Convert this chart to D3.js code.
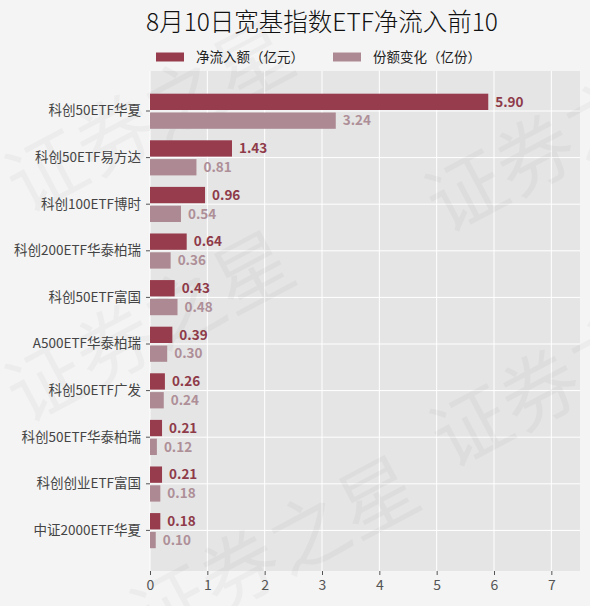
<!DOCTYPE html>
<html>
<head>
<meta charset="utf-8">
<script src="https://cdn.jsdelivr.net/npm/d3@7"></script>
<style>
  html, body { margin: 0; padding: 0; background: #f4f4f4; }
  svg { display: block; font-family: "Noto Sans CJK SC", "Noto Sans", sans-serif; }
</style>
</head>
<body>
<div id="stage"></div>
<script>
const categories = ['科创50ETF华夏', '科创50ETF易方达', '科创100ETF博时', '科创200ETF华泰柏瑞', '科创50ETF富国',
                    'A500ETF华泰柏瑞', '科创50ETF广发', '科创50ETF华泰柏瑞', '科创创业ETF富国', '中证2000ETF华夏'];
const netInflow = [5.90, 1.43, 0.96, 0.64, 0.43, 0.39, 0.26, 0.21, 0.21, 0.18];
const shareChange = [3.24, 0.81, 0.54, 0.36, 0.48, 0.30, 0.24, 0.12, 0.18, 0.10];
const xTicks = [0, 1, 2, 3, 4, 5, 6, 7];

const width = 590;
const height = 606;
const plot = {left: 150, right: 580, top: 71, bottom: 571};
const red = '#973c4c';
const pink = '#ad8a93';

const svg = d3.select('#stage')
              .append('svg')
              .attr('width', width)
              .attr('height', height);

svg.append('rect').attr('width', width).attr('height', height).attr('fill', '#f4f4f4');
svg.append('rect')
   .attr('x', plot.left).attr('y', plot.top)
   .attr('width', plot.right - plot.left).attr('height', plot.bottom - plot.top)
   .attr('fill', '#e5e5e5');

const x = d3.scaleLinear().domain([0, 7.5]).range([plot.left, plot.right]);
const y = d3.scaleBand().domain(categories).range([87.7, 553.7]).padding(0);
const bh = y.bandwidth() * 0.35;
const cy = d => y(d) + y.bandwidth() / 2;

// grid
svg.append('g').selectAll('line').data(xTicks).join('line')
   .attr('x1', d => x(d)).attr('x2', d => x(d))
   .attr('y1', plot.top).attr('y2', plot.bottom)
   .attr('stroke', '#fff').attr('stroke-width', 1);
svg.append('g').selectAll('line').data(categories).join('line')
   .attr('x1', plot.left).attr('x2', plot.right)
   .attr('y1', cy).attr('y2', cy)
   .attr('stroke', '#fff').attr('stroke-width', 1);

// watermark
const marks = [[25, 215], [25, 425], [445, 235], [150, 650], [450, 470]];
svg.append('g').attr('pointer-events', 'none').selectAll('text').data(marks).join('text')
   .attr('transform', d => `translate(${d[0]},${d[1]}) rotate(-28)`)
   .attr('font-size', 78).attr('fill', '#000').attr('fill-opacity', 0.03)
   .text('证券之星');

// bars
svg.append('g').selectAll('rect').data(categories).join('rect')
   .attr('x', x(0)).attr('y', d => cy(d) - bh - 1)
   .attr('width', (d, i) => x(netInflow[i]) - x(0)).attr('height', bh)
   .attr('fill', red);
svg.append('g').selectAll('rect').data(categories).join('rect')
   .attr('x', x(0)).attr('y', d => cy(d) + 1.5)
   .attr('width', (d, i) => x(shareChange[i]) - x(0)).attr('height', bh)
   .attr('fill', pink);

// value labels
svg.append('g').selectAll('text').data(categories).join('text')
   .attr('x', (d, i) => x(netInflow[i]) + 7).attr('y', d => cy(d) - bh / 2 - 1)
   .attr('dy', '0.35em').attr('font-size', 13.5).attr('font-weight', 'bold')
   .attr('fill', '#8e3a49')
   .text((d, i) => netInflow[i].toFixed(2));
svg.append('g').selectAll('text').data(categories).join('text')
   .attr('x', (d, i) => x(shareChange[i]) + 7).attr('y', d => cy(d) + bh / 2 + 1.5)
   .attr('dy', '0.35em').attr('font-size', 13.5).attr('font-weight', 'bold')
   .attr('fill', '#ae8f98')
   .text((d, i) => shareChange[i].toFixed(2));

// axes
const xAxis = svg.append('g')
   .attr('transform', `translate(0,${plot.bottom})`)
   .call(d3.axisBottom(x).tickValues(xTicks).tickSize(4).tickPadding(5))
   .attr('font-family', null);
xAxis.select('.domain').remove();
xAxis.selectAll('line').attr('stroke', '#555');
xAxis.selectAll('text').attr('font-size', 14).attr('fill', '#555');

const yAxis = svg.append('g')
   .attr('transform', `translate(${plot.left},0)`)
   .call(d3.axisLeft(y).tickSize(4).tickPadding(5))
   .attr('font-family', null);
yAxis.select('.domain').remove();
yAxis.selectAll('line').attr('stroke', '#555');
yAxis.selectAll('text').attr('font-size', 13.5).attr('fill', '#444');

// title
svg.append('text')
   .attr('x', 322).attr('y', 31)
   .attr('text-anchor', 'middle')
   .attr('font-size', 24.5).attr('font-weight', 300).attr('fill', '#111')
   .text('8月10日宽基指数ETF净流入前10');

// legend
const legend = [
    {label: '净流入额（亿元）', color: red, x: 156},
    {label: '份额变化（亿份）', color: pink, x: 333}
];
const lg = svg.append('g').selectAll('g').data(legend).join('g')
   .attr('transform', d => `translate(${d.x},57)`);
lg.append('rect').attr('y', -4.5).attr('width', 28).attr('height', 9).attr('fill', d => d.color);
lg.append('text').attr('x', 40).attr('dy', '0.35em').attr('font-size', 13.5).attr('fill', '#222')
   .text(d => d.label);
</script>
</body>
</html>
